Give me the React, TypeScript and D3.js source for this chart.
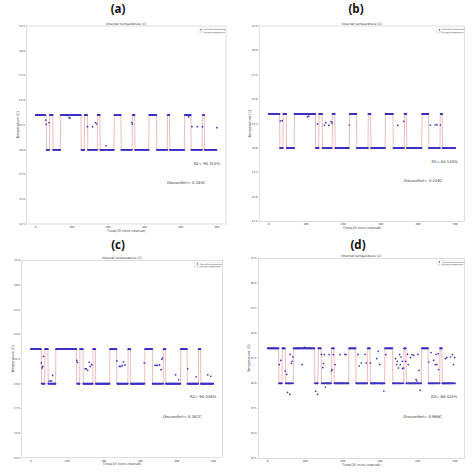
import React from "react";
import * as d3 from "d3";

// ---- data ----
const X_TICKS = [0, 100, 200, 300, 400, 500];
const Y_TICKS = [12.5, 15, 17.5, 20, 22.5, 25, 27.5, 30, 32.5];
const N_STEPS = 500;
const HIGH_SET = 23.5;
const LOW_SET = 20.0;
// times at which the set-point switches (starts high, alternates)
const SWITCH_TIMES = [30, 39, 48, 69, 126, 135, 144, 171, 178, 217, 236, 267, 274, 313, 334, 364, 370, 411, 429, 460, 466];

const OUTLIERS_A: [number, number][] = [
  [28, 23.0], [29, 22.57], [37, 22.74], [92, 23.27], [95, 23.17], [143, 22.33], [157, 22.33],
  [165, 22.74], [168, 22.6], [194, 20.4], [265, 22.74], [267, 22.6], [422, 23.34], [431, 22.33],
  [446, 22.33], [460, 22.33], [500, 22.23],
];
const OUTLIERS_B: [number, number][] = [
  [31, 22.77], [36, 22.8], [104, 23.2], [107, 23.28], [131, 22.47], [149, 22.36], [153, 22.6],
  [161, 22.33], [167, 22.7], [170, 22.57], [216, 22.36], [346, 22.33], [362, 22.74], [433, 22.36],
  [446, 22.36], [451, 22.4], [460, 22.36],
];
const OUTLIERS_C: [number, number][] = [
  [29, 22.1], [31, 21.6], [33, 21.75], [35, 22.77], [50, 20.27], [54, 20.27], [57, 20.27], [60, 20.84],
  [126, 22.36], [128, 22.16], [149, 21.5], [152, 21.5], [156, 21.35], [160, 22.16], [163, 21.75],
  [167, 21.93], [236, 22.3], [243, 21.75], [247, 21.75], [251, 21.86], [254, 22.2], [258, 21.9],
  [311, 22.1], [340, 21.86], [344, 21.86], [347, 21.86], [353, 21.9], [357, 21.42], [359, 22.47],
  [361, 22.6], [397, 20.9], [405, 20.4], [430, 21.5], [453, 20.7], [485, 20.9], [493, 20.75],
];
const OUTLIERS_D: [number, number][] = [
  [31, 21.87], [35, 22.3], [47, 21.23], [51, 20.9], [53, 19.1], [59, 18.9], [60, 22.9], [63, 22.0],
  [65, 22.2], [67, 22.63], [92, 21.87], [98, 23.6], [128, 19.2], [133, 18.9], [143, 22.9], [147, 21.57],
  [149, 21.97], [151, 22.87], [154, 19.63], [164, 22.87], [170, 21.23], [172, 21.37], [175, 22.87],
  [180, 21.87], [193, 22.87], [206, 22.9], [209, 22.87], [241, 22.87], [244, 21.73], [250, 22.03],
  [260, 22.9], [263, 22.03], [274, 22.03], [291, 22.47], [295, 23.2], [299, 21.87], [310, 19.23],
  [315, 22.87], [341, 22.47], [344, 21.87], [346, 22.2], [349, 21.53], [352, 22.87], [354, 21.87],
  [356, 22.63], [359, 22.2], [360, 21.47], [363, 21.53], [368, 22.2], [373, 22.9], [375, 21.87],
  [381, 22.57], [385, 22.87], [390, 22.8], [396, 20.37], [398, 20.23], [401, 22.9], [404, 21.3],
  [407, 19.3], [430, 22.13], [436, 23.07], [443, 22.3], [447, 21.87], [449, 22.9], [452, 21.87],
  [455, 22.97], [456, 21.37], [474, 22.47], [478, 22.57], [488, 22.63], [493, 22.87], [496, 21.87],
  [499, 22.57],
];
const PANEL_LABELS = ["(a)", "(b)", "(c)", "(d)"];
const R2_TEXTS = ["R2= 94.314%", "R2= 82.135%", "R2= 90.036%", "R2= 66.322%"];
const DISCOMFORT_TEXTS = ["Discomfort= 0.183C", "Discomfort= 0.226C", "Discomfort= 0.287C", "Discomfort= 0.968C"];
const OUTLIERS = [OUTLIERS_A, OUTLIERS_B, OUTLIERS_C, OUTLIERS_D];

// ---- layout ----
const BOXES = [
  { left: 26.6, right: 226, top: 26, bottom: 224, lx: 118, ly: 12.5 },
  { left: 259.4, right: 464.6, top: 26, bottom: 221.3, lx: 356, ly: 12.5 },
  { left: 21.6, right: 222.4, top: 260.3, bottom: 457.7, lx: 118, ly: 249 },
  { left: 258.3, right: 464.4, top: 258.3, bottom: 458.3, lx: 358, ly: 249 },
];

const BLUE = "#3b2fc4";
const PINK = "#e39090";
const FRAME = "#c8c8c8";
const TXT = "#333";

function setpointAt(t: number) {
  let lvl = HIGH_SET;
  for (const s of SWITCH_TIMES) {
    if (t >= s) lvl = lvl === HIGH_SET ? LOW_SET : HIGH_SET;
  }
  return lvl;
}
const TIMES = d3.range(0, N_STEPS + 1);
const SETPOINT = TIMES.map((t) => ({ t, v: setpointAt(t) }));

function Panel({ i }: { i: number }) {
  const b = BOXES[i];
  const x = d3.scaleLinear().domain([-25, 525]).range([b.left, b.right]);
  const y = d3.scaleLinear().domain([12.5, 32.5]).range([b.bottom, b.top]);
  const omap = new Map<number, number>(OUTLIERS[i]);
  const controlled = SETPOINT.map((d) => ({ t: d.t, v: omap.has(d.t) ? (omap.get(d.t) as number) : d.v }));
  const line = d3.line<{ t: number; v: number }>().x((d) => x(d.t)).y((d) => y(d.v));
  const cx = (b.left + b.right) / 2;
  const lgX = b.right - 28;
  const lgY = b.top + 2;
  return (
    <g>
      <text x={b.lx} y={b.ly} textAnchor="middle" fontSize={11.5} fontWeight="bold" fill="#111"
        fontFamily="Open Sans, Liberation Sans, sans-serif">{PANEL_LABELS[i]}</text>
      <text x={cx} y={b.top - 1.5} textAnchor="middle" fontSize={3.3} fill={TXT}>Internal temperature (C)</text>
      <path d={line(SETPOINT) || ""} fill="none" stroke={PINK} strokeWidth={0.6} />
      {controlled.map((d) => (
        <circle key={d.t} cx={x(d.t)} cy={y(d.v)} r={0.85} fill={BLUE} />
      ))}
      <rect x={b.left} y={b.top} width={b.right - b.left} height={b.bottom - b.top} fill="none" stroke={FRAME} strokeWidth={0.6} />
      {X_TICKS.map((t) => (
        <g key={"x" + t}>
          <line x1={x(t)} x2={x(t)} y1={b.bottom} y2={b.bottom + 1.2} stroke={FRAME} strokeWidth={0.5} />
          <text x={x(t)} y={b.bottom + 4} textAnchor="middle" fontSize={2.6} fill={TXT}>{t}</text>
        </g>
      ))}
      {Y_TICKS.map((t) => (
        <g key={"y" + t}>
          <line x1={b.left - 1.2} x2={b.left} y1={y(t)} y2={y(t)} stroke={FRAME} strokeWidth={0.5} />
          <text x={b.left - 1.8} y={y(t) + 0.9} textAnchor="end" fontSize={2.6} fill={TXT}>{t.toFixed(1)}</text>
        </g>
      ))}
      <text x={cx} y={b.bottom + 7.5} textAnchor="middle" fontSize={3.4} fill={TXT}>Time(15 mins interval)</text>
      <text transform={`translate(${b.left - 8},${(b.top + b.bottom) / 2}) rotate(-90)`} textAnchor="middle" fontSize={3.4} fill={TXT}>Temperature (C)</text>
      <text x={x(436)} y={y(18.5)} fontSize={3.8} fill={TXT}>{R2_TEXTS[i]}</text>
      <text x={x(362)} y={y(16.5)} fontSize={3.8} fill={TXT}>{DISCOMFORT_TEXTS[i]}</text>
      <rect x={lgX} y={lgY} width={26.5} height={5.5} fill="#fff" stroke="#ddd" strokeWidth={0.4} />
      <circle cx={lgX + 3} cy={lgY + 1.7} r={0.7} fill={BLUE} />
      <text x={lgX + 5.5} y={lgY + 2.4} fontSize={1.9} fill={TXT}>Controlled temperature</text>
      <line x1={lgX + 1.5} x2={lgX + 4.5} y1={lgY + 4} y2={lgY + 4} stroke={PINK} strokeWidth={0.5} />
      <text x={lgX + 5.5} y={lgY + 4.7} fontSize={1.9} fill={TXT}>Set-point temperature</text>
    </g>
  );
}

export default function App() {
  return (
    <svg width={474} height={474} style={{ position: "absolute", left: 0, top: 0, background: "#fff" }}
      fontFamily="DejaVu Sans, sans-serif">
      <rect width={474} height={474} fill="#fff" />
      {[0, 1, 2, 3].map((i) => <Panel key={i} i={i} />)}
    </svg>
  );
}
